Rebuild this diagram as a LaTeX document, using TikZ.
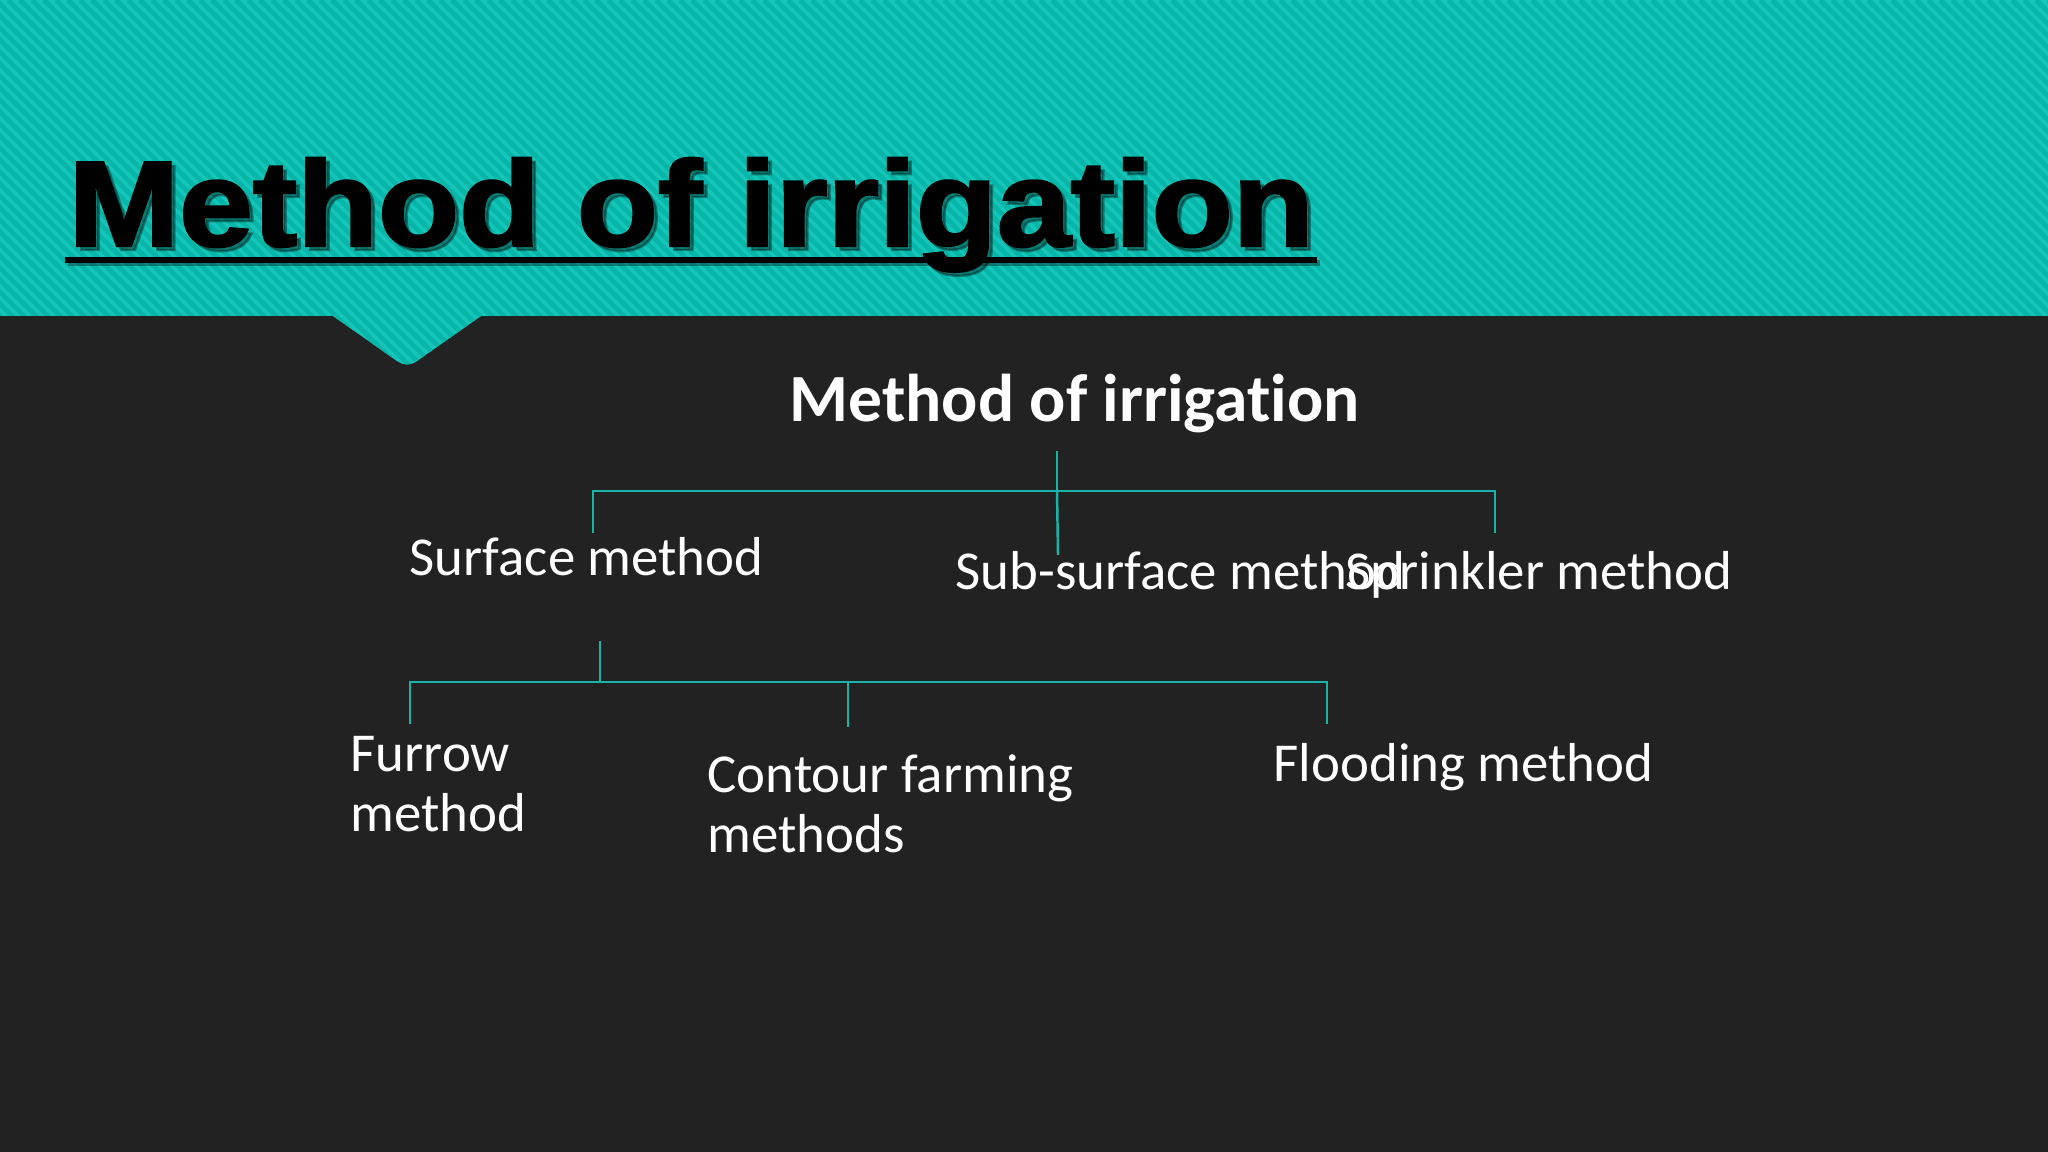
\documentclass[tikz,border=0pt]{standalone}
\usepackage{fontspec}
\usepackage{tikz}
\newfontfamily\itemfont[Ligatures=CommonOff]{Carlito}
\newfontfamily\titlefont[BoldFeatures={FakeBold=2}]{Liberation Sans}
\definecolor{slatebg}{HTML}{222222}
\definecolor{bannerteal}{HTML}{14C6B9}
\definecolor{stripeteal}{HTML}{08B6A9}
\definecolor{linkteal}{HTML}{1AB3A8}

\begin{document}
\begin{tikzpicture}[x=0.01cm,y=-0.01cm]
\tikzset{every node/.style={inner sep=0pt,anchor=base west}}
\tikzset{item/.style={text=white,font=\itemfont\fontsize{15.6pt}{17pt}\selectfont,align=left}}
\tikzset{head/.style={text=white,font=\itemfont\bfseries\fontsize{19.2pt}{22pt}\selectfont}}
\tikzset{branch/.style={draw=linkteal,line width=0.7pt}}
\useasboundingbox (0,0) rectangle (2048,1152);
\fill[slatebg] (0,0) rectangle (2048,1152);
% banner with notch
\begin{scope}
\path[clip] (0,0) -- (2048,0) -- (2048,316) -- (481,316) [rounded corners=3pt] -- (407,368)
  [sharp corners] -- (333,316) -- (0,316) -- cycle;
\fill[bannerteal] (0,0) rectangle (2048,380);
\foreach \s in {-400,-388,...,2060}
  \draw[stripeteal,line width=1.4pt] (\s,0) -- (\s+400,400);
\end{scope}
% slide title
\node[text=black,opacity=.35] at (72,250)
  {\titlefont\bfseries\fontsize{34.6pt}{40pt}\selectfont\scalebox{1.09}[1]{Method of irrigation}};
\node (title) at (68,246)
  {\titlefont\bfseries\fontsize{34.6pt}{40pt}\selectfont\scalebox{1.09}[1]{Method of irrigation}};
\draw[black,opacity=.35,line width=1.7pt] (68,263) -- (1320,263);
\draw[black,line width=1.7pt] (65,260) -- (1317,260);
% tree (multi-line nodes sit on their last baseline)
\node[head] (root) at (789,422) {Method of irrigation};
\node[item] (surface) at (409,576) {Surface method};
\node[item] (subsurface) at (955,590) {Sub-surface method};
\node[item] (sprinkler) at (1345,590) {Sprinkler method};
\node[item] (furrow) at (350,831) {Furrow\\method};
\node[item] (contour) at (707,852) {Contour farming\\methods};
\node[item] (flooding) at (1273,781) {Flooding method};
% junction points
\coordinate (rootTop) at (1057,451);
\coordinate (rootBar) at (1057,491);
\coordinate (barL) at (593,491);
\coordinate (barR) at (1495,491);
\coordinate (surfEnd) at (593,533);
\coordinate (subEnd) at (1058,555);
\coordinate (sprEnd) at (1495,533);
\coordinate (surfTop) at (600,641);
\coordinate (surfBar) at (600,682);
\coordinate (barL2) at (410,682);
\coordinate (barR2) at (1327,682);
\coordinate (midBar2) at (848,682);
\coordinate (furEnd) at (410,724);
\coordinate (conEnd) at (848,727);
\coordinate (floEnd) at (1327,724);
\draw[branch] (rootTop) -- (rootBar);
\draw[branch] (surfEnd) -- (barL) -- (barR) -- (sprEnd);
\draw[branch] (rootBar) -- (subEnd);
\draw[branch] (surfTop) -- (surfBar);
\draw[branch] (furEnd) -- (barL2) -- (barR2) -- (floEnd);
\draw[branch] (midBar2) -- (conEnd);
\end{tikzpicture}
\end{document}
